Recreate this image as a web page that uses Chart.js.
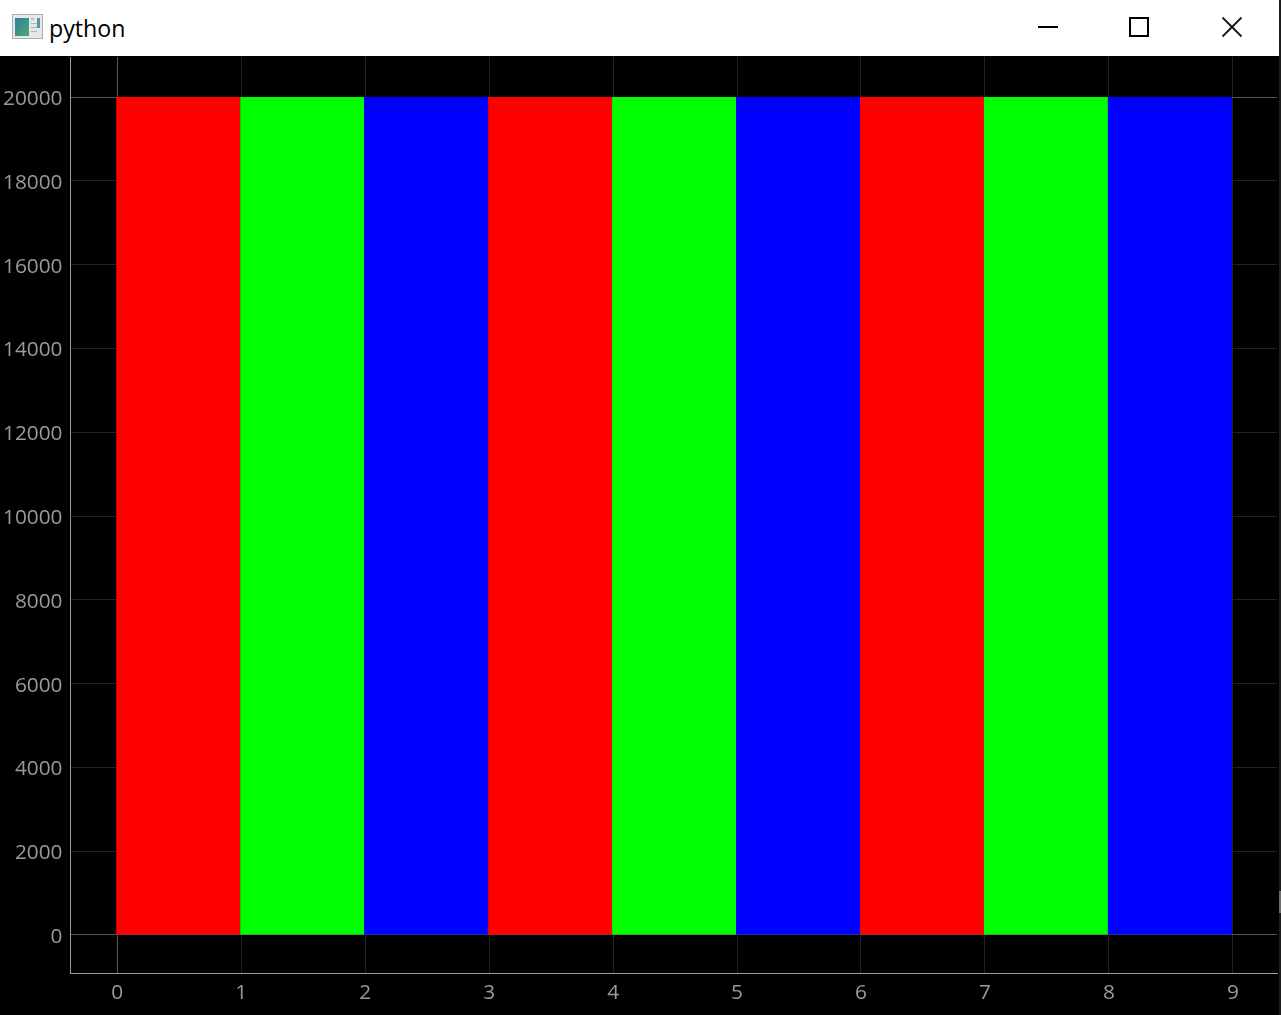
<!DOCTYPE html>
<html>
<head>
<meta charset="utf-8">
<title>python</title>
<style>
html,body{margin:0;padding:0;width:1281px;height:1015px;background:#000;overflow:hidden}
#titlebar{position:absolute;left:0;top:0;width:1279px;height:56px;background:#fff}
#name{position:absolute;left:49px;top:12px;font:23.2px/32px "Open Sans",sans-serif;color:#000}
#icon{position:absolute;left:12px;top:14px}
#btn{position:absolute;left:0;top:0}
#plot{position:absolute;left:0;top:56px;width:1281px;height:959px}
#edge{position:absolute;left:1279px;top:0;width:2px;height:1015px;background:#1c1c1c;z-index:2}
#thumb{position:absolute;left:1279px;top:891px;width:2px;height:22px;background:#6e6e6e;z-index:3}
</style>
<script src="https://cdn.jsdelivr.net/npm/chart.js@4"></script>
</head>
<body>
<div id="titlebar">
<svg id="icon" width="32" height="26" viewBox="0 0 32 26">
<rect x="0.5" y="0.5" width="30" height="24" fill="#e4e8ea" stroke="#a9afb5"/>
<defs><linearGradient id="g" x1="0" y1="0" x2="1" y2="1"><stop offset="0" stop-color="#2f7f9f"/><stop offset="1" stop-color="#4fa868"/></linearGradient></defs>
<rect x="3" y="4" width="14" height="18" fill="url(#g)"/>
<rect x="19" y="4" width="3" height="2" fill="#b8bec2"/><rect x="19" y="9" width="6" height="1" fill="#b0b6ba"/>
<rect x="19" y="13" width="6" height="1" fill="#b0b6ba"/><rect x="19" y="17" width="6" height="1" fill="#b0b6ba"/>
<rect x="25" y="4" width="3" height="10" fill="#4f9aa0"/>
</svg>
<div id="name">python</div>
<svg id="btn" width="1279" height="56">
<line x1="1038" y1="27" x2="1058" y2="27" stroke="#000" stroke-width="2"/>
<rect x="1130" y="18" width="18" height="18" fill="none" stroke="#000" stroke-width="2"/>
<line x1="1222.5" y1="17.5" x2="1241.5" y2="36.5" stroke="#111" stroke-width="1.8"/>
<line x1="1241.5" y1="17.5" x2="1222.5" y2="36.5" stroke="#111" stroke-width="1.8"/>
</svg>
</div>
<div id="edge"></div><div id="thumb"></div>
<div id="plot"><canvas id="c" width="1281" height="959"></canvas></div>
<script>
const binCenters = [0.492, 1.492, 2.492, 3.492, 4.492, 5.492, 6.492, 7.492, 8.492];
const barValues = [20000, 20000, 20000, 20000, 20000, 20000, 20000, 20000, 20000];
const barColors = ['#ff0000','#00ff00','#0000ff','#ff0000','#00ff00','#0000ff','#ff0000','#00ff00','#0000ff'];
const xTicks = [0,1,2,3,4,5,6,7,8,9];
const yTicks = [0,2000,4000,6000,8000,10000,12000,14000,16000,18000,20000];

const gridColor = c => c.tick && c.tick.value === 0 ? '#555555' : '#222222';
const yGridColor = c => c.tick && (c.tick.value === 0 || c.tick.value === 20000) ? '#555555' : '#222222';
const tickFont = {family:'"Open Sans"', size:20.8};
const noPad = s => { s.paddingLeft = 0; s.paddingRight = 0; s.paddingTop = 0; s.paddingBottom = 0; };

new Chart(document.getElementById('c'), {
  type:'bar',
  data:{datasets:[{
    data: binCenters.map((x,i)=>({x, y:barValues[i]})),
    backgroundColor: barColors,
    borderWidth:0,
    inflateAmount:0,
    barPercentage:1,
    categoryPercentage:1
  }]},
  options:{
    responsive:false,
    animation:false,
    events:[],
    layout:{padding:{left:0,right:4,top:1,bottom:0}},
    plugins:{legend:{display:false},tooltip:{enabled:false},title:{display:false}},
    scales:{
      x:{
        type:'linear', offset:false, min:-0.377, max:9.356,
        afterBuildTicks:s=>{s.ticks=xTicks.map(value=>({value}))},
        afterFit:s=>{s.height=42; noPad(s);},
        grid:{color:gridColor,drawTicks:false,lineWidth:1,offset:false},
        border:{color:'#999999',width:1},
        ticks:{color:'#9a9a9a',font:tickFont,maxRotation:0,autoSkip:false,padding:8,callback:v=>String(v)}
      },
      y:{
        type:'linear', min:-907, max:20955,
        afterBuildTicks:s=>{s.ticks=yTicks.map(value=>({value}))},
        afterFit:s=>{s.width=70.5; noPad(s);},
        grid:{color:yGridColor,drawTicks:false,lineWidth:1},
        border:{color:'#999999',width:1},
        ticks:{color:'#9a9a9a',font:tickFont,autoSkip:false,padding:8,labelOffset:2,callback:v=>String(v)}
      }
    }
  }
});
</script>
</body>
</html>
